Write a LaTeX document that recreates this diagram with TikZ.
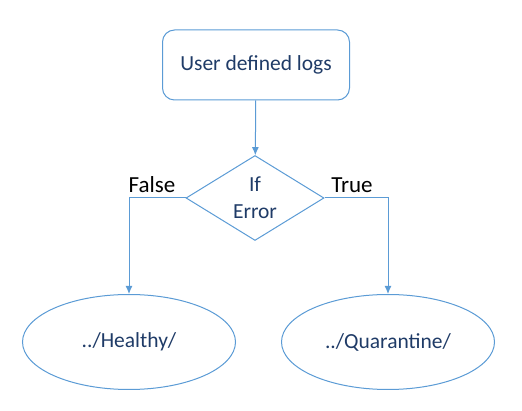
\documentclass[tikz,border=0pt]{standalone}
\usepackage{fontspec}
\setmainfont{Carlito}
\usetikzlibrary{shapes.geometric,arrows.meta}
\definecolor{lineblue}{HTML}{5B9BD5}
\definecolor{textblue}{HTML}{1F3B67}

\begin{document}
\begin{tikzpicture}[x=1pt,y=-1pt,
	logbox/.style={draw=lineblue,line width=1,rounded corners=12,minimum width=187,minimum height=70,text=textblue,font=\fontsize{21.5}{26}\selectfont},
	check/.style={draw=lineblue,line width=1,diamond,aspect=1.62,inner sep=0,minimum width=138,minimum height=85,align=center,text=textblue,font=\fontsize{21.5}{27}\selectfont},
	folder/.style={draw=lineblue,line width=1,ellipse,inner sep=0,minimum width=213,minimum height=95,text=textblue,font=\fontsize{21.5}{26}\selectfont},
	link/.style={draw=lineblue,line width=1,-{Latex[length=8,width=7]}},
	branch/.style={font=\fontsize{23}{27}\selectfont}]
	\useasboundingbox (0,0) rectangle (522,411);
	\node[logbox] (logs) at (256,65) {User defined logs};
	\node[check] (err) at (255,198) {If\\Error};
	\node[folder] (healthy) at (129,342) {../Healthy/};
	\node[folder] (quar) at (388,342) {../Quarantine/};
	\draw[link] (logs) -- (err);
	\draw[link] (err.west) -| (healthy.north);
	\draw[link] (err.east) -| (quar.north);
	\node[branch] (no) at (152,185) {False};
	\node[branch] (yes) at (352,185) {True};
\end{tikzpicture}
\end{document}
